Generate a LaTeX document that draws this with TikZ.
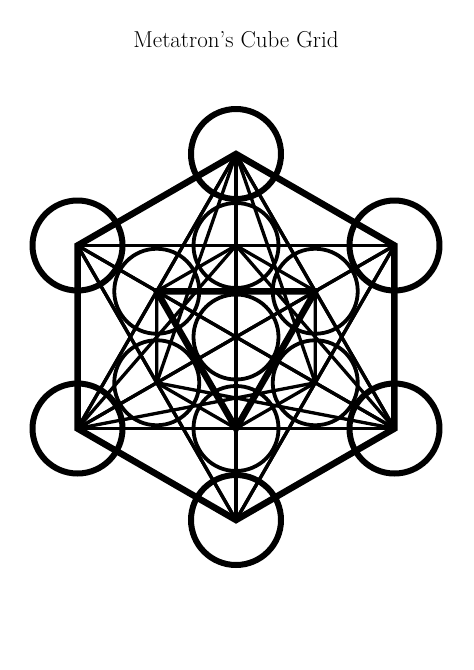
\documentclass[tikz,border=0pt]{standalone}
\usetikzlibrary{calc}
\begin{document}
\begin{tikzpicture}[x=1pt,y=-1pt,
  thinline/.style={line width=3.3pt,line cap=round},
  thickline/.style={line width=6.5pt,line join=miter,line cap=round},
  outercirc/.style={line width=6pt},
  innercirc/.style={line width=3.8pt}]
\useasboundingbox (0,0) rectangle (474,670);
\fill[white] (0,0) rectangle (474,670);
\node (title) at (236,40) {\fontsize{23}{28}\selectfont Metatron's Cube Grid};
\coordinate (c) at (236,337);
\foreach \n/\a in {T/90,UR/30,LR/-30,B/-90,LL/210,UL/150}{
  \coordinate (o\n) at ($(c)+(\a:183pt)$);
  \coordinate (i\n) at ($(c)+(\a:91.5pt)$);
}
% lines between outer circle centres (they pass through inner centres)
\foreach \p in {oT,oUR,oLR,oB,oLL,oUL}
  \foreach \q in {oT,oUR,oLR,oB,oLL,oUL}
    \draw[thinline] (\p) -- (\q);
% extra lines from three outer centres
\draw[thinline] (oT) -- (iLL) (oT) -- (iLR);
\draw[thinline] (oLL) -- (iT) (oLL) -- (iLR);
\draw[thinline] (oLR) -- (iT) (oLR) -- (iLL);
% inner hexagon
\draw[thinline] (iT) -- (iUR) -- (iLR) -- (iB) -- (iLL) -- (iUL) -- cycle;
% thick outline and triangle
\draw[thickline] (oT) -- (oUR) -- (oLR) -- (oB) -- (oLL) -- (oUL) -- cycle;
\draw[thickline] (iUL) -- (iUR) -- (iB) -- cycle;
% circles
\foreach \p in {c,iT,iUR,iLR,iB,iLL,iUL}
  \draw[innercirc] (\p) circle[radius=42.5pt];
\foreach \p in {oT,oUR,oLR,oB,oLL,oUL}
  \draw[outercirc] (\p) circle[radius=45pt];
\end{tikzpicture}
\end{document}
